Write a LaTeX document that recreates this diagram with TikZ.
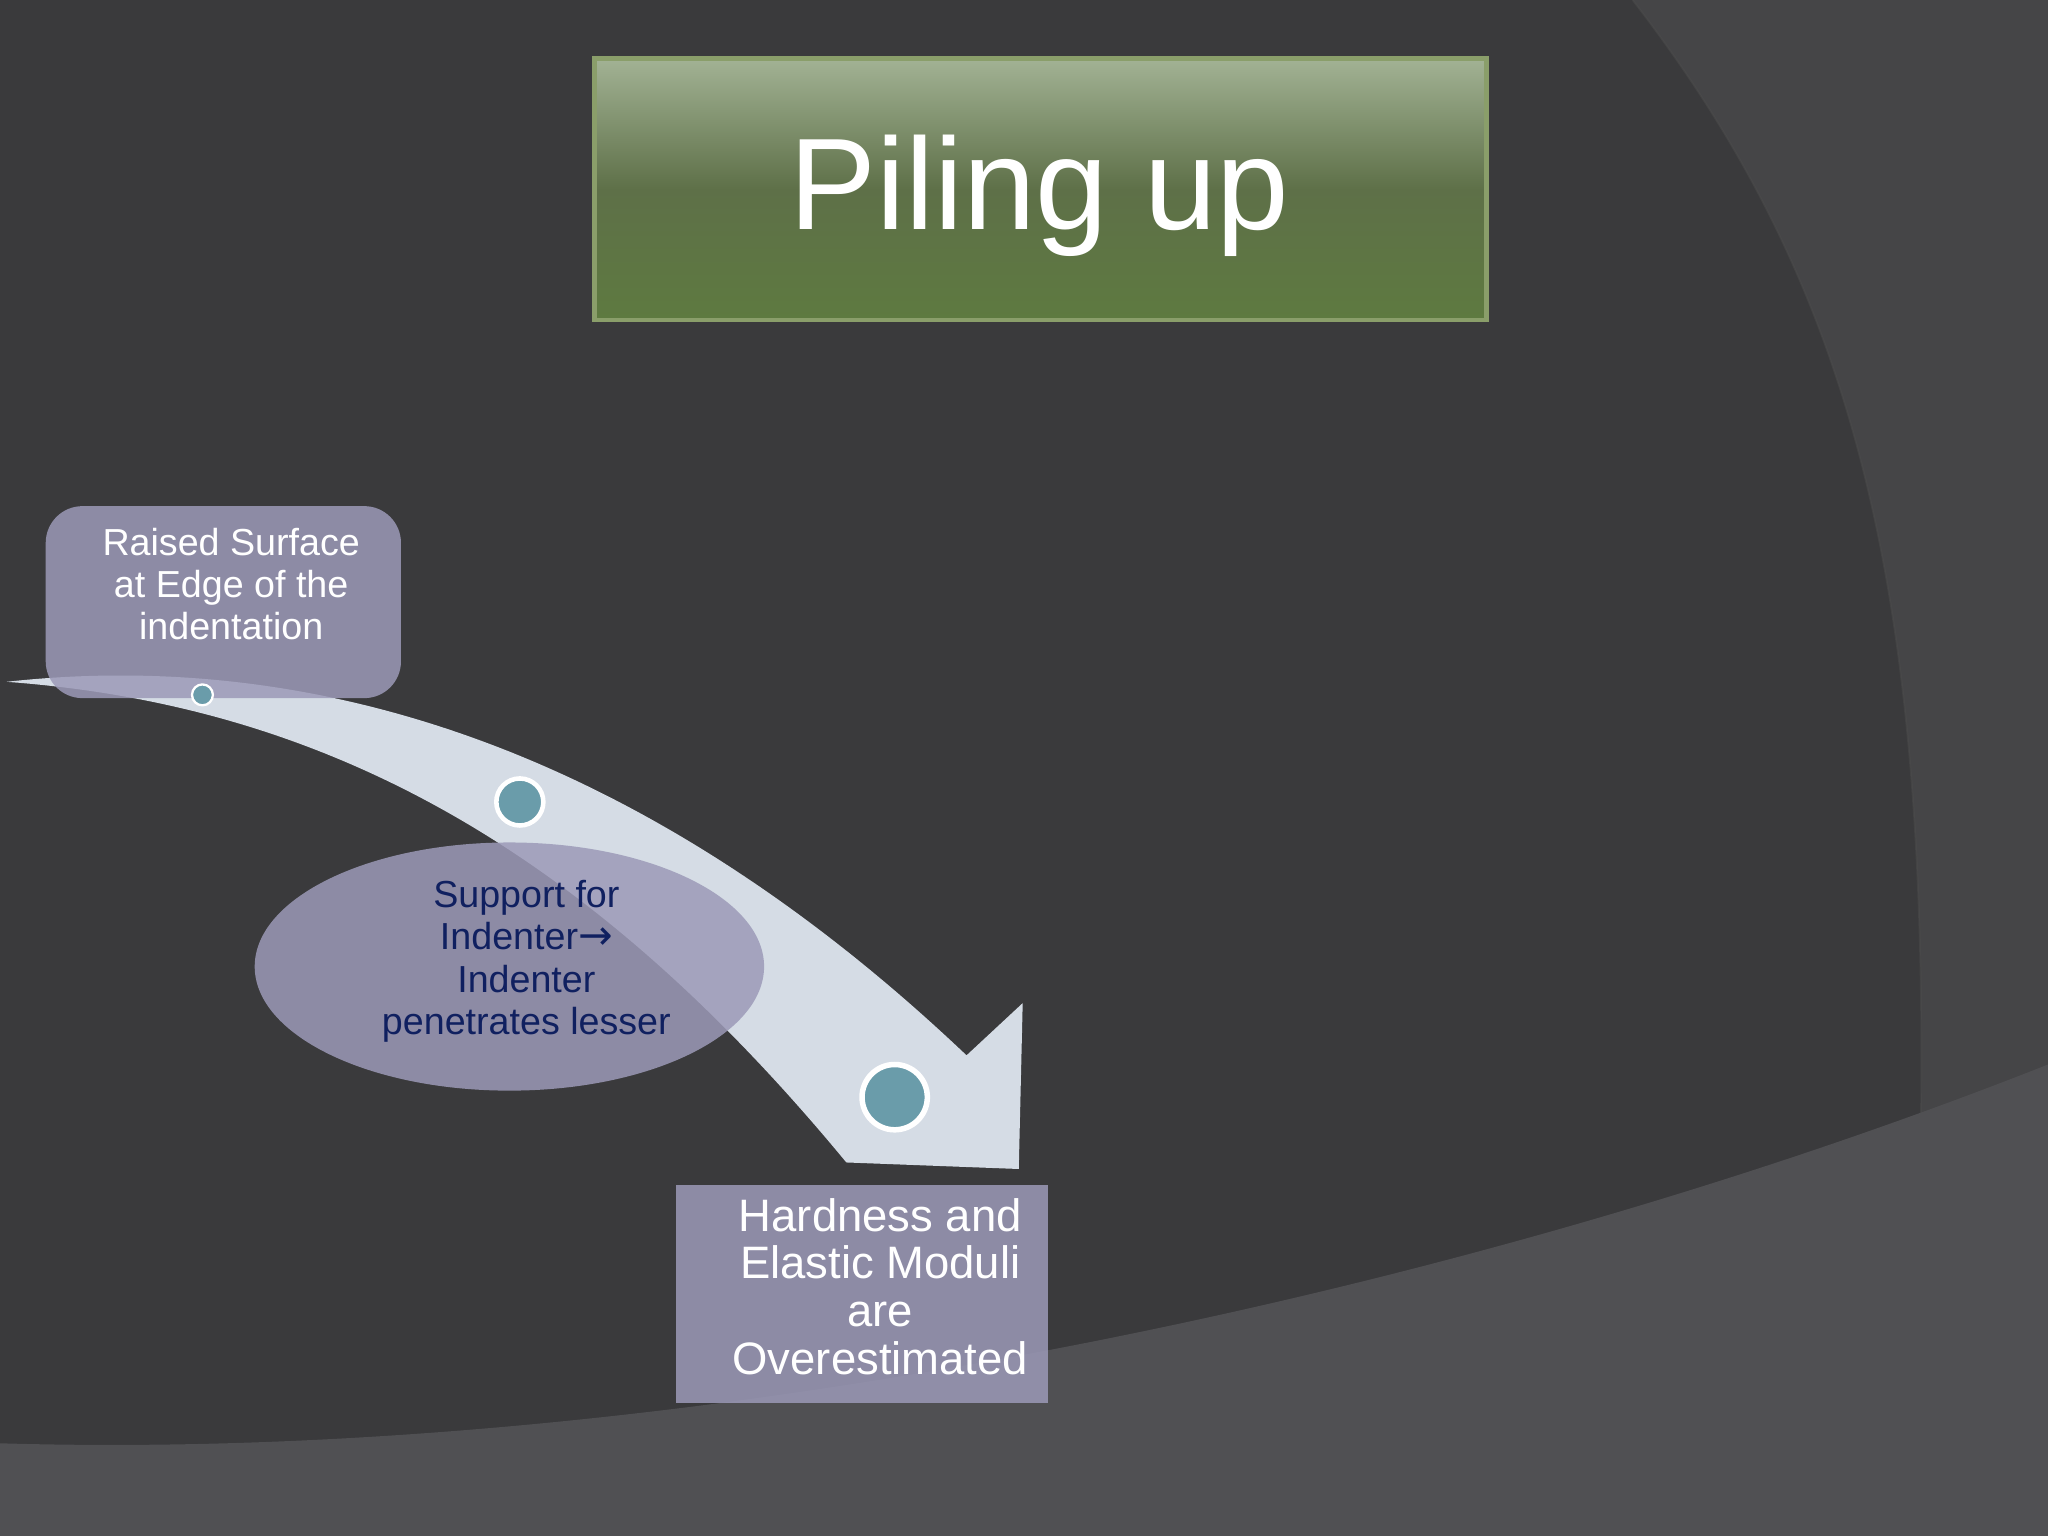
\documentclass[tikz,border=0pt]{standalone}
\usepackage{fontspec}
\setmainfont{Liberation Sans}
\newfontfamily\djv{DejaVu Sans}
\usetikzlibrary{shapes.geometric}
\definecolor{bg}{HTML}{3A3A3C}
\definecolor{bgr}{HTML}{454547}
\definecolor{bgb}{HTML}{505053}
\definecolor{arr}{HTML}{D5DCE5}
\definecolor{dot}{HTML}{6A9CAA}
\definecolor{lav}{HTML}{9C9AB8}
\definecolor{navy}{HTML}{102060}
\definecolor{gtop}{HTML}{A2B294}
\definecolor{gmid}{HTML}{5E7048}
\definecolor{gbot}{HTML}{5E7A40}
\definecolor{gbrd}{HTML}{8A9E6A}
\tikzset{
  box/.style={fill=lav,fill opacity=0.85,text opacity=1,text=white,align=center,font=\fontsize{8.2pt}{9.2pt}\selectfont},
  dotc/.style={circle,fill=dot,draw=white,line width=0.5pt,inner sep=0pt}
}
\begin{document}
\begin{tikzpicture}[x=0.1mm,y=-0.1mm]
\fill[bg] (0,0) rectangle (1568,1176);
\useasboundingbox (0,0) rectangle (1568,1176);
\fill[bgr] (1250,0) .. controls (1420,220) and (1480,450) .. (1470,900) -- (1568,900) -- (1568,0) -- cycle;
\draw[black!70,opacity=0.5] (1250,0) .. controls (1420,220) and (1480,450) .. (1470,900);
\fill[bgb] (0,1105) .. controls (500,1120) and (1100,1000) .. (1568,815) -- (1568,1176) -- (0,1176) -- cycle;
% title
\shade[top color=gtop,bottom color=gbot,middle color=gmid] (455,45) rectangle (1138,245);
\draw[gbrd,line width=1pt] (455,45) rectangle (1138,245);
\node[text=white,font=\fontsize{28.4pt}{32pt}\selectfont] (title) at (796,150) {Piling up};
% arrow
\fill[arr] (5,522) .. controls (250,495) and (500,580) .. (740,808) -- (783,768) -- (780,895) -- (648,890) .. controls (450,650) and (250,540) .. (5,522) -- cycle;
\node[box,rounded corners=8pt,minimum width=27.2mm,minimum height=14.7mm] (raised) at (171,461) {};
\node[text=white,align=center,font=\fontsize{8.2pt}{9.2pt}\selectfont] (rtxt) at (177,447) {Raised Surface\\at Edge of the\\indentation};
\node[ellipse,fill=lav,fill opacity=0.85,minimum width=39mm,minimum height=19mm] (ell) at (390,740) {};
\node[text=navy,align=center,font=\fontsize{8.2pt}{9.2pt}\selectfont] (sup) at (403,736) {Support for\\Indenter{\djv\fontsize{9pt}{9pt}\selectfont →}\\Indenter\\penetrates lesser};
\node[box,minimum width=28.5mm,minimum height=16.7mm] (hard) at (660,991) {};
\node[text=white,align=center,font=\fontsize{9.9pt}{10.4pt}\selectfont] (htxt) at (674,985) {Hardness and\\Elastic Moduli\\are\\Overestimated};
\node[dotc,minimum size=1.6mm] (d1) at (155,532) {};
\node[dotc,minimum size=3.6mm,line width=1pt] (d2) at (398,614) {};
\node[dotc,minimum size=5mm,line width=1.2pt] (d3) at (685,840) {};
\end{tikzpicture}
\end{document}
